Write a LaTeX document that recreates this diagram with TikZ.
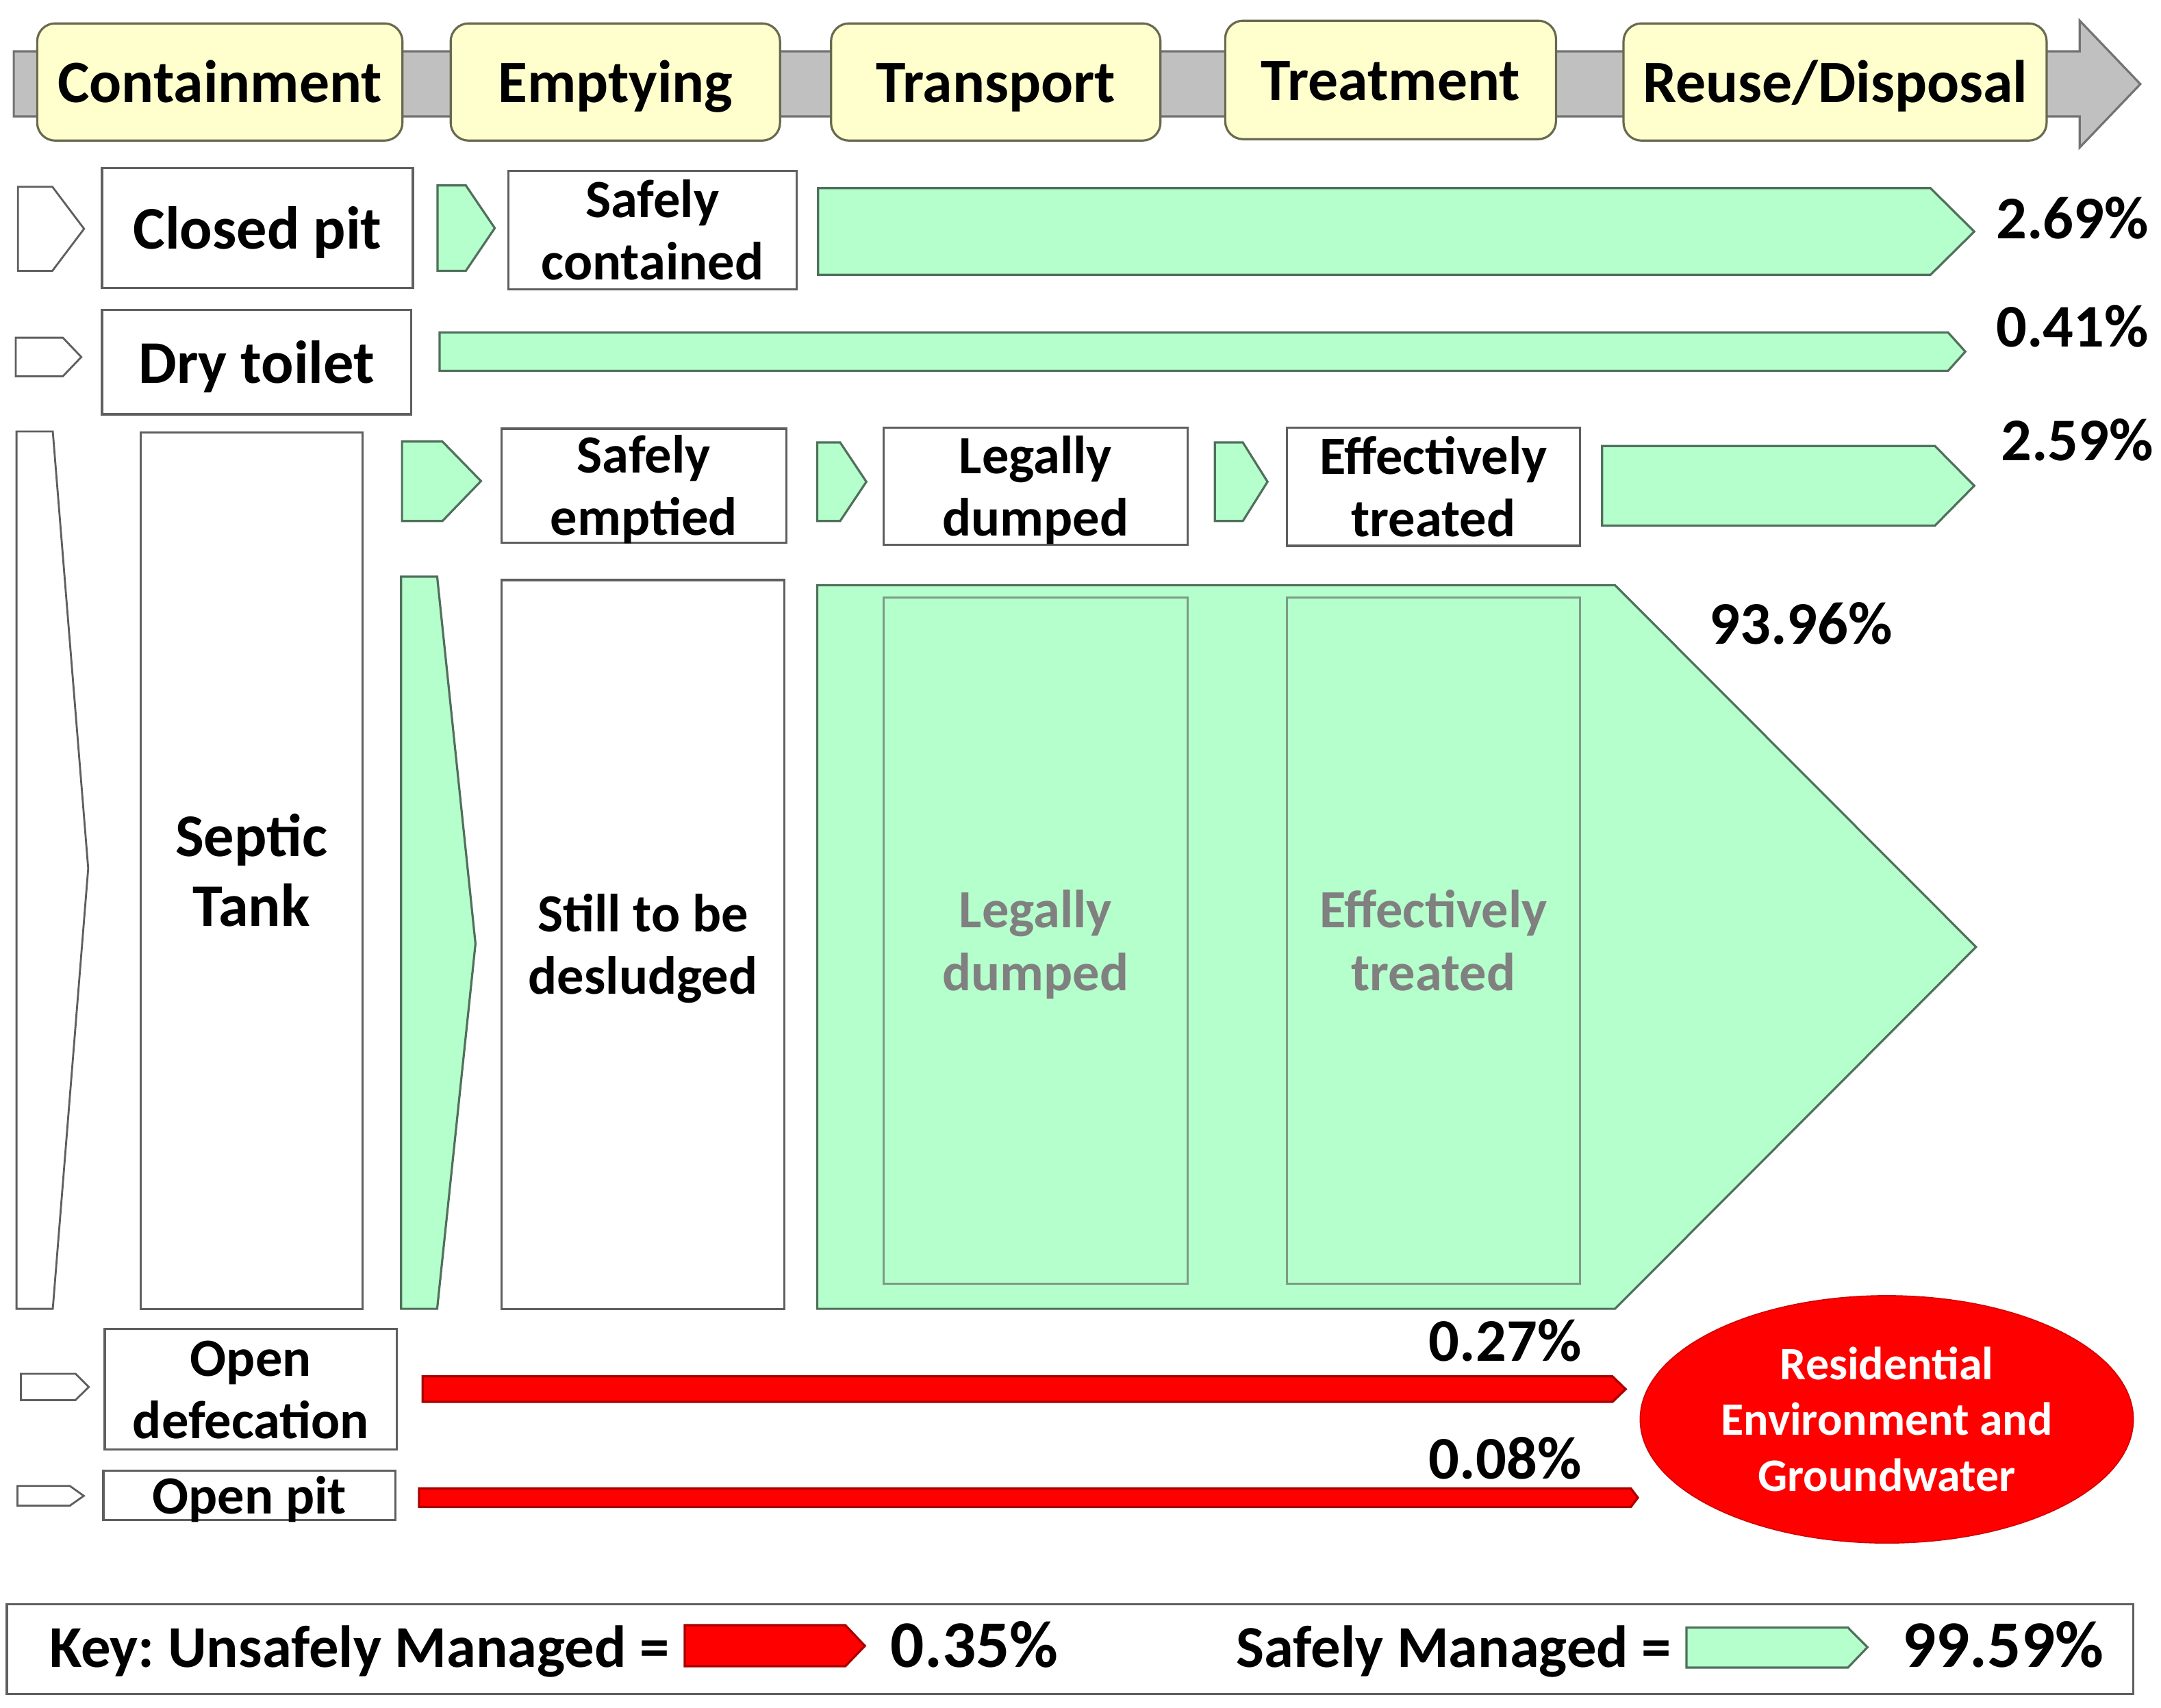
\documentclass[tikz,border=0pt]{standalone}
\usepackage{fontspec}
\setmainfont{Carlito}
\usetikzlibrary{shapes.geometric}
\frenchspacing
\definecolor{gfill}{RGB}{181,255,204}
\definecolor{gline}{RGB}{80,112,92}
\definecolor{rfill}{RGB}{255,0,0}
\definecolor{rline}{RGB}{170,0,0}
\definecolor{yfill}{RGB}{255,255,206}
\definecolor{yline}{RGB}{105,105,80}
\definecolor{barfill}{RGB}{192,192,192}
\definecolor{barline}{RGB}{115,115,115}
\definecolor{boxline}{RGB}{95,95,95}
\definecolor{fadetext}{RGB}{128,128,128}
\definecolor{fadeline}{RGB}{125,155,135}
\newcommand\smallfs{\fontsize{22.2}{25.8}\selectfont\bfseries}
\newcommand\largefs{\fontsize{25}{29}\selectfont\bfseries}
\newcommand\stagefs{\fontsize{24.8}{28}\selectfont\bfseries}
\newcommand\pctfs{\fontsize{25}{28}\selectfont\bfseries}
\newcommand\keyfs{\fontsize{24.5}{28}\selectfont\bfseries}
\newcommand\keypctfs{\fontsize{27.5}{30}\selectfont\bfseries}
\newcommand\ellfs{\fontsize{19.2}{23}\selectfont\bfseries}
% slide-like text block: ascent .952em above first line, descent .269em below last line
\newcommand\tstrut{\rule{0pt}{0.952em}}
\newcommand\bstrut{\rule[-0.269em]{0pt}{0.269em}}
% #1 shape style, #2 text style, #3 name, (#4,#5)-(#6,#7) corners, #8 text
\newcommand\bx[8]{\path[#1] (#4,#5) rectangle (#6,#7);
  \node[txt,#2] (#3) at ({(#4+#6)/2},{(#5+#7)/2}) {\tstrut#8\bstrut};}
\begin{document}
\begin{tikzpicture}[x=0.02cm,y=-0.02cm,
  wbox/.style={draw=boxline, fill=white, line width=0.9pt},
  stage/.style={draw=yline, fill=yfill, line width=0.9pt, rounded corners=0.26cm},
  fbox/.style={draw=fadeline, fill=gfill, line width=0.8pt},
  txt/.style={inner sep=0pt, align=center, font=\smallfs},
  fadetxt/.style={text=fadetext},
  wchev/.style={draw=boxline, fill=white, line width=0.8pt, line join=miter},
  gchev/.style={draw=gline, fill=gfill, line width=0.9pt, line join=miter},
  rchev/.style={draw=rline, fill=rfill, line width=0.9pt, line join=miter},
  pct/.style={inner sep=0pt, anchor=base west, font=\pctfs},
  keytxt/.style={inner sep=0pt, font=\keyfs}
]
\useasboundingbox (0,0) rectangle (1568,1239);
\fill[white] (0,0) rectangle (1568,1239);

% ---- banner arrow
\draw[draw=barline, fill=barfill, line width=0.9pt, line join=miter]
  (10,37.3) -- (1509,37.3) -- (1509,15) -- (1553,61) -- (1509,107) -- (1509,84.5) -- (10,84.5) -- cycle;
\bx{stage}{font=\stagefs}{cont}{27}{17}{292}{102}{Containment}
\bx{stage}{font=\stagefs}{empt}{327}{17}{566}{102}{Emptying}
\bx{stage}{font=\stagefs}{trans}{603}{17}{842}{102}{Transport}
\bx{stage}{font=\stagefs}{treat}{889}{15}{1129}{101}{Treatment}
\bx{stage}{font=\stagefs}{reuse}{1178}{17}{1485}{102}{Reuse/Disposal}

% ---- row: closed pit
\draw[wchev] (13,135.5) -- (38,135.5) -- (61,166) -- (38,196.5) -- (13,196.5) -- cycle;
\bx{wbox}{font=\largefs}{closedpit}{74}{122}{299.6}{209}{Closed pit}
\draw[gchev] (317.5,134.5) -- (338,134.5) -- (359,165.5) -- (338,196.5) -- (317.5,196.5) -- cycle;
\bx{wbox}{}{safecont}{368.8}{124}{578}{210}{Safely\\contained}
\draw[gchev] (593.6,136.5) -- (1400.7,136.5) -- (1432.5,168) -- (1400.7,199.4) -- (593.6,199.4) -- cycle;
\node[pct] (p269) at (1448,173) {2.69\%};

% ---- row: dry toilet
\draw[wchev] (11.4,245) -- (45.6,245) -- (59,259) -- (45.6,273) -- (11.4,273) -- cycle;
\bx{wbox}{font=\largefs}{drytoilet}{74}{225}{298.4}{300.6}{Dry toilet}
\draw[gchev] (319,241.2) -- (1413.5,241.2) -- (1426,255.1) -- (1413.5,269) -- (319,269) -- cycle;
\node[pct] (p041) at (1448,251.5) {0.41\%};

% ---- septic tank
\draw[wchev] (12,313) -- (38.3,313) -- (64,630) -- (38.3,949.5) -- (12,949.5) -- cycle;
\bx{wbox}{font=\largefs}{septic}{102}{313.7}{262.9}{949.5}{Septic\\Tank}

\draw[gchev] (291.7,320.3) -- (321,320.3) -- (349,349) -- (321,378) -- (291.7,378) -- cycle;
\bx{wbox}{}{safeempt}{363.8}{311}{570.5}{393.6}{Safely\\emptied}
\draw[gchev] (593,321) -- (609.6,321) -- (628.6,349.5) -- (609.6,378) -- (593,378) -- cycle;
\bx{wbox}{}{legdump}{641}{310.4}{861.8}{395.3}{Legally\\dumped}
\draw[gchev] (881.5,321) -- (901.8,321) -- (919.7,349.5) -- (901.8,378) -- (881.5,378) -- cycle;
\bx{wbox}{}{efftreat}{933.6}{310.4}{1146.5}{396}{Effectively\\treated}
\draw[gchev] (1162.4,323.6) -- (1404,323.6) -- (1432.5,352.4) -- (1404,381.3) -- (1162.4,381.3) -- cycle;
\node[pct] (p259) at (1451.6,334.3) {2.59\%};

\draw[gchev] (291,418.3) -- (317.2,418.3) -- (345,684.6) -- (317.2,949.5) -- (291,949.5) -- cycle;
\bx{wbox}{}{still}{363.8}{420.8}{569.3}{949.5}{Still to be\\desludged}
\draw[gchev] (593,424.5) -- (1171.8,424.5) -- (1433.8,687) -- (1171.8,949.5) -- (593,949.5) -- cycle;
\bx{fbox}{fadetxt}{legdump2}{641}{433.5}{861.8}{931.5}{Legally\\dumped}
\bx{fbox}{fadetxt}{efftreat2}{933.6}{433.5}{1146.5}{931.5}{Effectively\\treated}
\node[pct] (p9396) at (1240,467.4) {93.96\%};

% ---- open defecation / open pit
\draw[wchev] (15.2,996.6) -- (54.8,996.6) -- (64.4,1006.2) -- (54.8,1015.7) -- (15.2,1015.7) -- cycle;
\bx{wbox}{}{opendef}{76}{964}{288}{1051.5}{Open\\defecation}
\draw[rchev] (306.7,998.5) -- (1170,998.5) -- (1179.6,1007.8) -- (1170,1017) -- (306.7,1017) -- cycle;
\node[pct] (p027) at (1036.5,987.4) {0.27\%};

\draw[wchev] (12.7,1078) -- (50.7,1078) -- (60.8,1085.2) -- (50.7,1092.3) -- (12.7,1092.3) -- cycle;
\bx{wbox}{}{openpit}{75}{1067}{287}{1102.6}{Open pit}
\draw[rchev] (304,1079.7) -- (1183.3,1079.7) -- (1188.4,1086.5) -- (1183.3,1093.3) -- (304,1093.3) -- cycle;
\node[pct] (p008) at (1036.5,1073) {0.08\%};

\node[draw=rline!60!rfill, fill=rfill, ellipse, minimum width=7.16cm, minimum height=3.592cm, inner sep=0pt, align=center, text=white, font=\ellfs] (env) at (1369,1029.7) {\tstrut Residential\\Environment and\\Groundwater\bstrut};

% ---- key
\draw[wbox] (5,1164) rectangle (1548,1229);
\node[keytxt, anchor=base east] (k1) at (486,1209.5) {Key: Unsafely Managed =};
\draw[rchev] (496.8,1179) -- (613.4,1179) -- (627.6,1194) -- (613.4,1208.8) -- (496.8,1208.8) -- cycle;
\node[keytxt, anchor=base west, font=\keypctfs] (k2) at (646,1209.5) {0.35\%};
\node[keytxt, anchor=base east] (k3) at (1213,1209.5) {Safely Managed =};
\draw[gchev] (1223.7,1180.7) -- (1340.8,1180.7) -- (1355,1195) -- (1340.8,1209.8) -- (1223.7,1209.8) -- cycle;
\node[keytxt, anchor=base west, font=\keypctfs] (k4) at (1380,1209.5) {99.59\%};
\end{tikzpicture}
\end{document}
